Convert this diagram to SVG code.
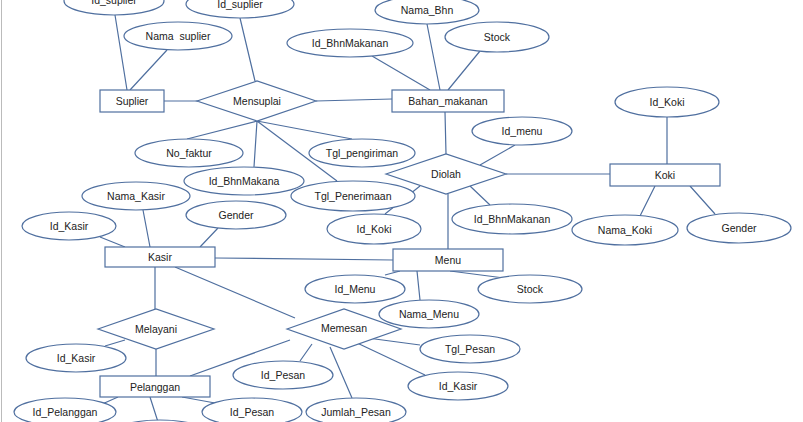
<svg xmlns="http://www.w3.org/2000/svg" width="803" height="422" viewBox="0 0 803 422">
<style>
.s{fill:#fff;stroke:#4f6f9f;stroke-width:1.2}
.l{stroke:#4f6f9f;stroke-width:1.2;fill:none}
text{font-family:"Liberation Sans",Arial,sans-serif;font-size:10.5px;fill:#222;text-anchor:middle;dominant-baseline:central}
</style>
<rect width="803" height="422" fill="#fff"/>
<line x1="1.5" y1="0" x2="1.5" y2="422" stroke="#bbb"/>
<g id="connectors" class="l">
<path d="M115 15L127 90M167 50L130 90M240 18L255 81M164 101H200M316 101L392 99"/>
<path d="M257 121L187 139M257 121L254 167M257 121L352 139M257 121L337 181"/>
<path d="M372 56L430 90M427 24L440 90M480 51L448 90M445 112L446 154M515 145L480 165M506 174H610M667 117V164M655 186L640 216M690 186L715 214"/>
<path d="M420 186L385 214M470 186L490 205M448 194V249"/>
<path d="M143 210L150 247M100 237L125 247M218 228L200 247M215 258L393 260M155 267V309M175 267L295 318"/>
<path d="M156 349V376M105 346L125 340M290 340L190 376M312 344L300 361M330 347L352 398M360 337L420 345M355 342L425 375"/>
<path d="M400 271L385 275M417 271L420 300M450 271L504 278"/>
<path d="M118 397L100 405M150 397L158 422M182 397L215 403"/>
</g>
<g id="e1"><ellipse class="s" cx="114" cy="1" rx="50" ry="14"/><text x="114" y="0">Id_suplier</text></g>
<g id="e2"><ellipse class="s" cx="240" cy="4" rx="54" ry="14"/><text x="240" y="4">Id_suplier</text></g>
<g id="e3"><ellipse class="s" cx="178" cy="36" rx="54" ry="14"/><text x="178" y="36" xml:space="preserve">Nama  suplier</text></g>
<g id="e4"><ellipse class="s" cx="427" cy="10" rx="52" ry="14"/><text x="427" y="10">Nama_Bhn</text></g>
<g id="e5"><ellipse class="s" cx="350" cy="43" rx="63" ry="14"/><text x="350" y="43">Id_BhnMakanan</text></g>
<g id="e6"><ellipse class="s" cx="497" cy="37" rx="52" ry="15"/><text x="497" y="37">Stock</text></g>
<g id="e7"><ellipse class="s" cx="667" cy="102" rx="52" ry="15"/><text x="667" y="102">Id_Koki</text></g>
<g id="e8"><ellipse class="s" cx="522" cy="131" rx="50" ry="14"/><text x="522" y="131">Id_menu</text></g>
<g id="e9"><ellipse class="s" cx="189" cy="153" rx="54" ry="14"/><text x="189" y="153">No_faktur</text></g>
<g id="e10"><ellipse class="s" cx="362" cy="153" rx="53" ry="14"/><text x="362" y="153">Tgl_pengiriman</text></g>
<g id="e11"><ellipse class="s" cx="244" cy="181" rx="60" ry="14"/><text x="244" y="181">Id_BhnMakana</text></g>
<g id="e12"><ellipse class="s" cx="353" cy="196" rx="62" ry="15"/><text x="353" y="196">Tgl_Penerimaan</text></g>
<g id="e13"><ellipse class="s" cx="136" cy="196" rx="54" ry="14"/><text x="136" y="196">Nama_Kasir</text></g>
<g id="e14"><ellipse class="s" cx="69" cy="226" rx="47" ry="14"/><text x="69" y="226">Id_Kasir</text></g>
<g id="e15"><ellipse class="s" cx="236" cy="215" rx="50" ry="14"/><text x="236" y="215">Gender</text></g>
<g id="e16"><ellipse class="s" cx="374" cy="229" rx="47" ry="15"/><text x="374" y="229">Id_Koki</text></g>
<g id="e17"><ellipse class="s" cx="512" cy="219" rx="60" ry="15"/><text x="512" y="219">Id_BhnMakanan</text></g>
<g id="e18"><ellipse class="s" cx="625" cy="230" rx="53" ry="15"/><text x="625" y="230">Nama_Koki</text></g>
<g id="e19"><ellipse class="s" cx="739" cy="228" rx="52" ry="15"/><text x="739" y="228">Gender</text></g>
<g id="e20"><ellipse class="s" cx="355" cy="289" rx="50" ry="14"/><text x="355" y="289">Id_Menu</text></g>
<g id="e21"><ellipse class="s" cx="530" cy="289" rx="52" ry="14"/><text x="530" y="289">Stock</text></g>
<g id="e22"><ellipse class="s" cx="429" cy="314" rx="50" ry="14"/><text x="429" y="314">Nama_Menu</text></g>
<g id="e23"><ellipse class="s" cx="470" cy="349" rx="50" ry="14"/><text x="470" y="349">Tgl_Pesan</text></g>
<g id="e24"><ellipse class="s" cx="76" cy="358" rx="50" ry="14"/><text x="76" y="358">Id_Kasir</text></g>
<g id="e25"><ellipse class="s" cx="283" cy="375" rx="50" ry="14"/><text x="283" y="375">Id_Pesan</text></g>
<g id="e26"><ellipse class="s" cx="458" cy="386" rx="50" ry="14"/><text x="458" y="386">Id_Kasir</text></g>
<g id="e27"><ellipse class="s" cx="65" cy="412" rx="51" ry="14"/><text x="65" y="412">Id_Pelanggan</text></g>
<g id="e28"><ellipse class="s" cx="252" cy="412" rx="50" ry="14"/><text x="252" y="412">Id_Pesan</text></g>
<g id="e29"><ellipse class="s" cx="356" cy="412" rx="50" ry="14"/><text x="356" y="412">Jumlah_Pesan</text></g>
<g id="e30"><ellipse class="s" cx="160" cy="434" rx="48" ry="14"/></g>
<g id="suplier"><rect class="s" x="100" y="90" width="64" height="22"/><text x="132" y="101">Suplier</text></g>
<g id="bahan"><rect class="s" x="392" y="90" width="112" height="22"/><text x="448" y="101">Bahan_makanan</text></g>
<g id="koki"><rect class="s" x="610" y="164" width="110" height="22"/><text x="665" y="175">Koki</text></g>
<g id="kasir"><rect class="s" x="105" y="247" width="110" height="20"/><text x="160" y="257">Kasir</text></g>
<g id="menu"><rect class="s" x="393" y="249" width="110" height="22"/><text x="448" y="260">Menu</text></g>
<g id="pelanggan"><rect class="s" x="100" y="376" width="110" height="21"/><text x="155" y="386.5">Pelanggan</text></g>
<g id="mensuplai"><polygon class="s" points="197,101 257,81 316,101 257,121"/><text x="257" y="101">Mensuplai</text></g>
<g id="diolah"><polygon class="s" points="386,174 446,154 506,174 446,194"/><text x="446" y="174">Diolah</text></g>
<g id="melayani"><polygon class="s" points="98,329 156,309 214,329 156,349"/><text x="156" y="329">Melayani</text></g>
<g id="memesan"><polygon class="s" points="287,329 344,309 401,329 344,349"/><text x="344" y="328">Memesan</text></g>
</svg>
